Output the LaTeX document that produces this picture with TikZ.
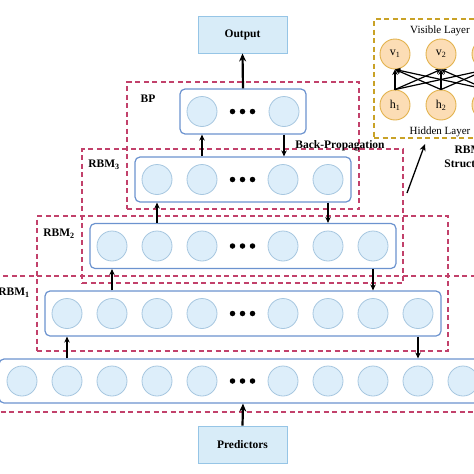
\documentclass[tikz,border=0pt]{standalone}
\usepackage{fontspec}
\setmainfont{Liberation Serif}
\usetikzlibrary{arrows.meta}
\definecolor{cfill}{HTML}{DDEEFA}
\definecolor{cdraw}{HTML}{A7C7E0}
\definecolor{lbox}{HTML}{6C93CF}
\definecolor{iofill}{HTML}{D8ECF8}
\definecolor{iodraw}{HTML}{96C5E6}
\definecolor{dred}{HTML}{C2416B}
\definecolor{dyel}{HTML}{C9A227}
\definecolor{ofill}{HTML}{FCDDB5}
\definecolor{odraw}{HTML}{E2B24C}
\tikzset{
  neuron/.style={circle, minimum size=30pt, inner sep=0pt, fill=cfill, draw=cdraw, line width=0.8pt},
  rbmnode/.style={circle, minimum size=30pt, inner sep=0pt, fill=ofill, draw=odraw, line width=0.9pt, font=\fontsize{12}{14}\selectfont},
  layerbox/.style={draw=lbox, line width=1.2pt, rounded corners=5pt, fill=white, inner sep=0pt, minimum height=45pt},
  iobox/.style={draw=iodraw, fill=iofill, line width=0.9pt, inner sep=0pt, minimum width=89pt, minimum height=37pt, font=\bfseries\fontsize{11.5}{13.8}\selectfont},
  dashbox/.style={draw=dred, line width=1.2pt, dash pattern=on 5pt off 3.5pt, inner sep=0pt},
  yelbox/.style={draw=dyel, line width=1.2pt, dash pattern=on 5pt off 3.5pt, inner sep=0pt},
  lbl/.style={font=\bfseries\fontsize{11.5}{13.8}\selectfont, inner sep=0pt},
  thin lbl/.style={font=\fontsize{11}{13}\selectfont, inner sep=0pt},
  arr/.style={line width=1.3pt, -{Stealth[length=6pt,width=5.5pt]}},
  bigarr/.style={line width=2.2pt, -{Stealth[length=8pt,width=7pt]}},
  rarr/.style={line width=1.2pt, -{Stealth[length=5.5pt,width=5.5pt]}},
  dotfill/.style={circle, fill=black, inner sep=0pt, minimum size=5.5pt}
}
\newcommand{\mydots}[2]{%
  \node[dotfill] (#1a) at (232.5,#2) {};
  \node[dotfill] (#1b) at (242.5,#2) {};
  \node[dotfill] (#1c) at (252.5,#2) {};}
\begin{document}
\begin{tikzpicture}[x=1pt,y=-1pt]
\useasboundingbox (0,0) rectangle (474,474);
\clip (0,0) rectangle (474,474);

% dashed group boxes
\node[dashbox, minimum width=232pt, minimum height=127pt] (gbp) at (243,145.5) {};
\node[dashbox, minimum width=321pt, minimum height=134pt] (g3) at (242.5,216) {};
\node[dashbox, minimum width=411pt, minimum height=135pt] (g2) at (242.5,283.5) {};
\node[dashbox, minimum width=501pt, minimum height=136pt] (g1) at (242.5,344) {};

% I/O boxes
\node[iobox] (out) at (242.5,34.5) {Output};
\node[iobox] (pred) at (242.5,444.5) {Predictors};

% BP layer
\node[layerbox, minimum width=126pt] (bp) at (243,111.5) {};
\foreach \x [count=\i] in {202,284} \node[neuron] (b\i) at (\x,111.5) {};
\mydots{bd}{111.5}

% RBM3 layer
\node[layerbox, minimum width=216pt] (l3) at (243,179.5) {};
\foreach \x [count=\i] in {157,202,283,328} \node[neuron] (t\i) at (\x,179.5) {};
\mydots{td}{179.5}

% RBM2 layer
\node[layerbox, minimum width=306pt] (l2) at (243,246) {};
\foreach \x [count=\i] in {112,157,202,283,328,373} \node[neuron] (s\i) at (\x,246) {};
\mydots{sd}{246}

% RBM1 layer
\node[layerbox, minimum width=396pt] (l1) at (243,313.5) {};
\foreach \x [count=\i] in {67,112,157,202,283,328,373,418} \node[neuron] (f\i) at (\x,313.5) {};
\mydots{fd}{313.5}

% input layer
\node[layerbox, minimum width=488pt, minimum height=44pt] (l0) at (243,381) {};
\foreach \x [count=\i] in {22,67,112,157,202,283,328,373,418,463} \node[neuron] (z\i) at (\x,381) {};
\mydots{zd}{381}

% labels
\node[lbl] (lbp) at (148,99) {BP};
\node[lbl] (lr3) at (104,165) {RBM\textsubscript{3}};
\node[lbl] (lr2) at (59,234) {RBM\textsubscript{2}};
\node[lbl] (lr1) at (14,293) {RBM\textsubscript{1}};
\node[lbl] (lback) at (340,146) {Back-Propagation};

% arrows
\draw[bigarr] (bp.north) -- (out.south);
\draw[bigarr] (pred.north) -- (l0.south);
\draw[arr] (l3.north -| b1) -- (bp.south -| b1);
\draw[arr] (bp.south -| b2) -- (l3.north -| b2);
\draw[arr] (l2.north -| t1) -- (l3.south -| t1);
\draw[arr] (l3.south -| t4) -- (l2.north -| t4);
\draw[arr] (l1.north -| s1) -- (l2.south -| s1);
\draw[arr] (l2.south -| s6) -- (l1.north -| s6);
\draw[arr] (l0.north -| f1) -- (l1.south -| f1);
\draw[arr] (l1.south -| f8) -- (l0.north -| f8);

% RBM structure inset
\node[yelbox, minimum width=152pt, minimum height=119pt] (ybox) at (450,78.5) {};
\node[thin lbl] (vis) at (440,31) {Visible Layer};
\node[thin lbl] (hid) at (440,131.5) {Hidden Layer};
\foreach \x [count=\i] in {395,441,487} {
  \node[rbmnode] (v\i) at (\x,54) {v\textsubscript{\i}};
  \node[rbmnode] (h\i) at (\x,105) {h\textsubscript{\i}};
}
\foreach \i in {1,2,3} \foreach \j in {1,2,3} \draw[rarr] (h\i.north) -- (v\j.south);
\node[lbl, align=center] (rbmlbl) at (468,157) {RBM\\Structure};
\coordinate (pa) at (407,193);
\coordinate (pb) at (425,144);
\draw[line width=1.3pt, -{Stealth[length=7pt,width=6pt]}] (pa) -- (pb);
\end{tikzpicture}
\end{document}
